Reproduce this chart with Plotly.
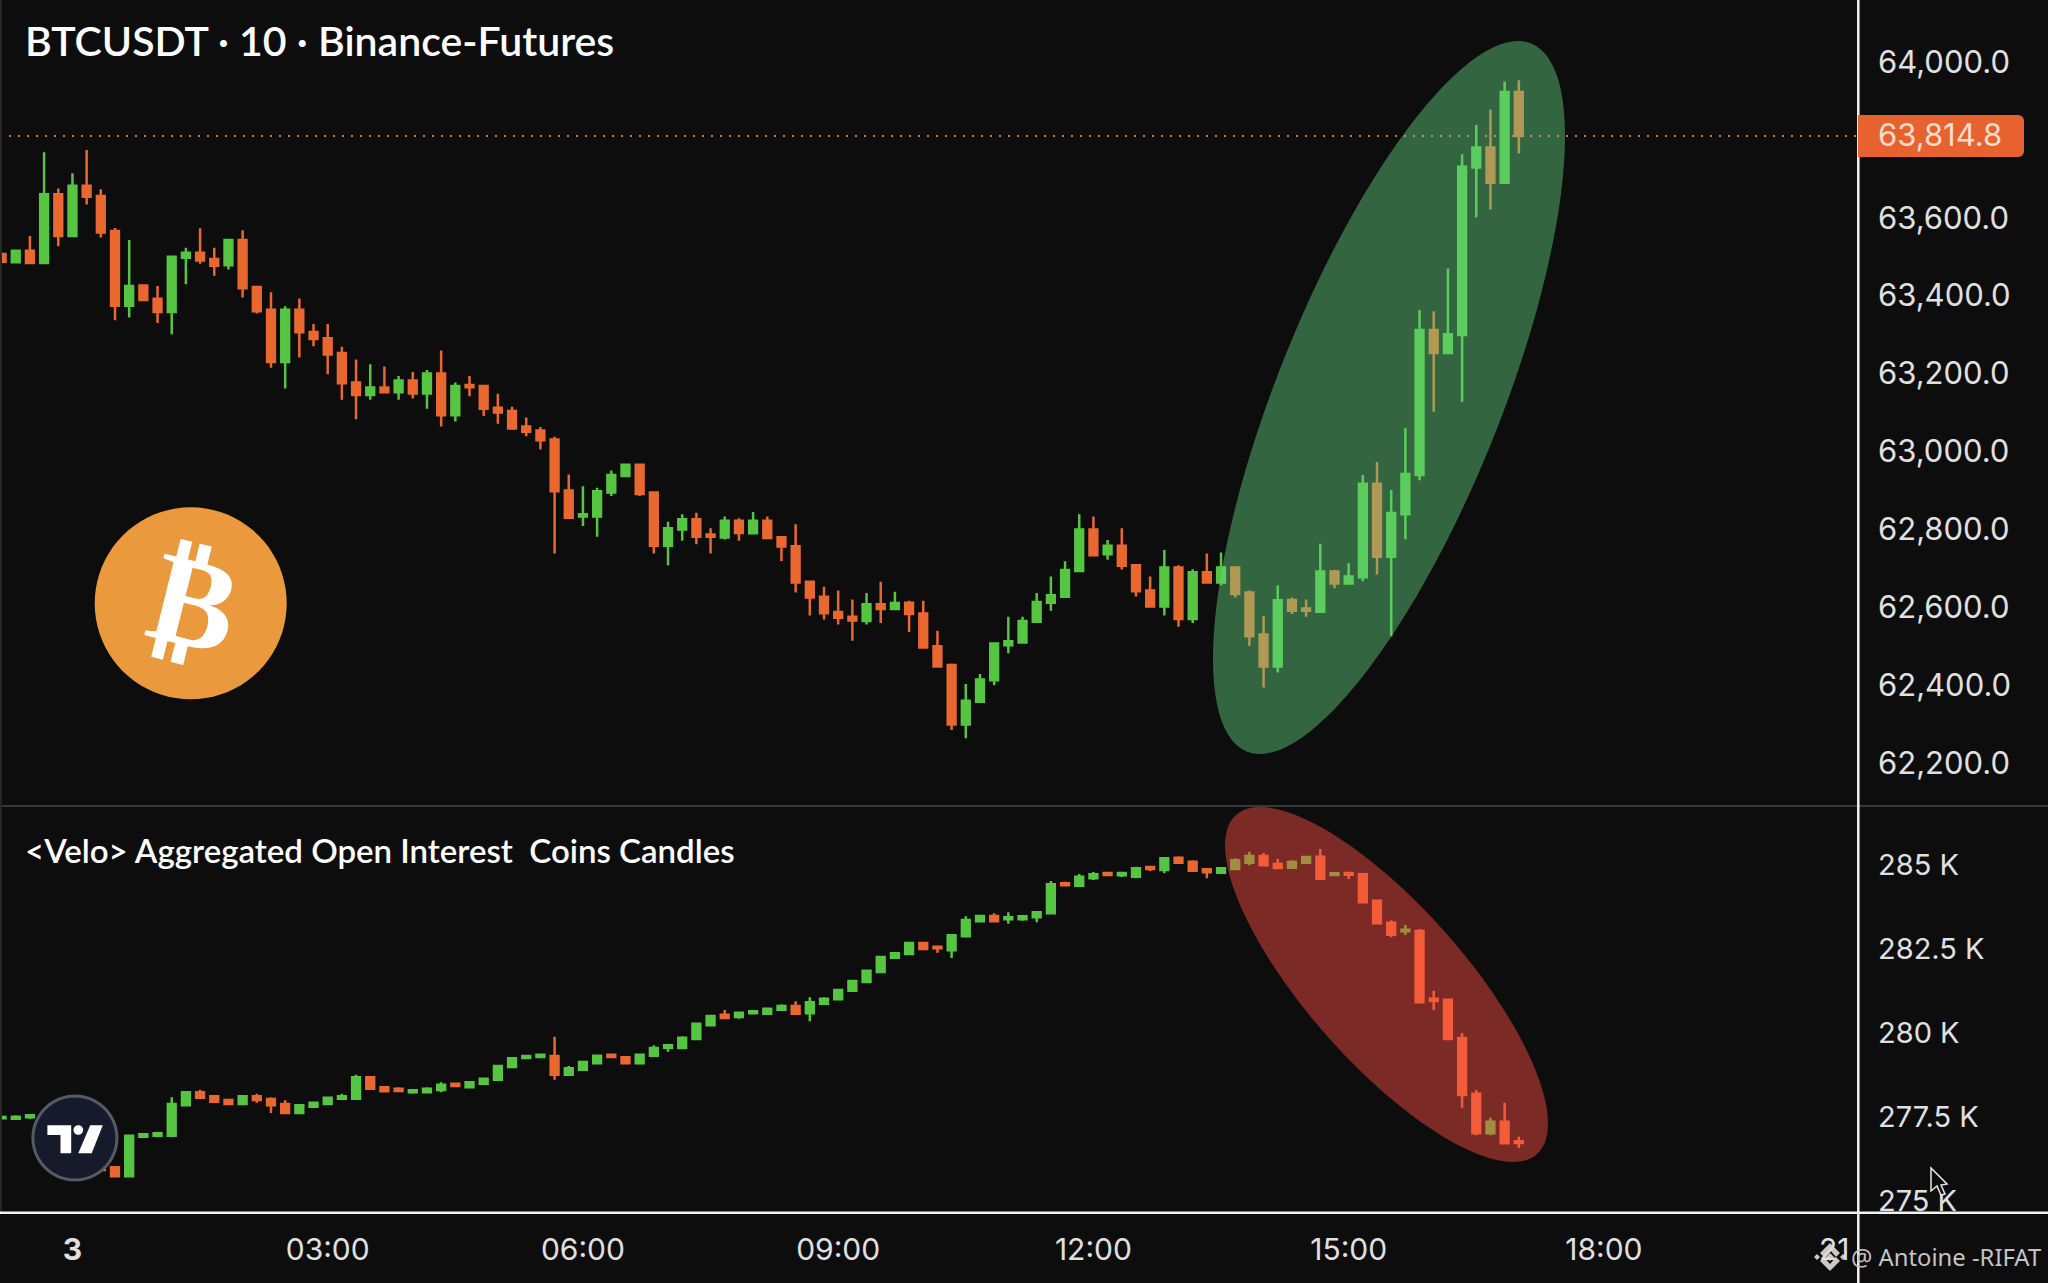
import math
import pandas as pd
import plotly.graph_objects as go

# ---------- data ----------
candle_times = pd.date_range("2024-05-02 23:10", periods=108, freq="10min")

price_open = [63512,63491,63520,63489,63665,63558,63687,63661,63571,63379,63431,63397,63363,63502,63515,63499,63483,63548,63427,63369,63235,63369,63312,63296,63258,63182,63150,63169,63157,63187,63154,63205,63098,63176,63173,63117,63109,63069,63059,63036,62905,62838,62838,62900,62942,62971,62900,62763,62805,62831,62792,62784,62827,62795,62827,62785,62762,62671,62632,62593,62581,62570,62613,62601,62617,62589,62505,62457,62304,62363,62418,62508,62515,62568,62617,62632,62698,62805,62741,62763,62713,62648,62607,62707,62575,62695,62669,62707,62643,62535,62453,62624,62602,62594,62697,62666,62682,62922,62735,62844,62945,63317,63258,63304,63734,63785,63695,63928]
price_high = [63512,63520,63558,63773,63680,63719,63779,63678,63579,63548,63433,63430,63505,63528,63578,63528,63548,63573,63429,63414,63378,63398,63332,63332,63274,63241,63229,63223,63199,63209,63214,63264,63182,63199,63173,63153,63120,63092,63068,63043,62946,62916,62912,62956,62974,62974,62903,62825,62844,62848,62808,62838,62834,62850,62838,62785,62818,62671,62658,62648,62625,62642,62671,62645,62622,62622,62545,62461,62408,62434,62515,62581,62581,62642,62684,62723,62844,62838,62778,62808,62713,62684,62752,62713,62703,62743,62746,62707,62648,62583,62661,62630,62625,62768,62701,62718,62945,62978,62906,63065,63368,63365,63475,63768,63843,63883,63955,63958]
price_low = [63492,63488,63489,63488,63532,63558,63639,63554,63342,63349,63394,63335,63306,63434,63487,63456,63472,63400,63359,63220,63167,63246,63275,63203,63138,63088,63138,63157,63138,63141,63115,63069,63082,63147,63096,63076,63062,63044,63010,62743,62835,62814,62786,62891,62942,62891,62743,62713,62776,62767,62743,62779,62776,62792,62783,62724,62643,62584,62574,62561,62519,62561,62565,62601,62542,62502,62453,62290,62269,62363,62405,62487,62515,62568,62596,62632,62698,62736,62727,62702,62633,62607,62584,62555,62565,62669,62662,62630,62506,62399,62438,62588,62581,62594,62654,62666,62672,62689,62531,62780,62931,63107,63258,63133,63606,63626,63695,63770]
price_close = [63492,63520,63489,63665,63558,63687,63659,63567,63379,63430,63394,63363,63505,63515,63495,63482,63548,63424,63365,63235,63369,63311,63294,63254,63180,63150,63169,63157,63187,63154,63205,63098,63173,63170,63115,63105,63064,63056,63034,62903,62835,62844,62903,62945,62971,62896,62763,62808,62831,62786,62786,62827,62796,62827,62783,62761,62669,62630,62590,62578,62571,62613,62601,62616,62588,62502,62453,62304,62365,62420,62512,62518,62570,62619,62636,62701,62805,62739,62763,62712,62646,62607,62707,62575,62695,62669,62707,62639,62531,62453,62623,62596,62596,62697,62666,62684,62922,62735,62847,62947,63317,63258,63306,63736,63785,63695,63928,63814.8]

oi_open = [277513,277503,277543,277543,277543,277265,276967,276470,276053,275785,276967,276997,276997,277900,278288,278168,278059,277940,278168,278089,277940,277672,277861,277940,278099,278099,278734,278437,278397,278288,278288,278357,278546,278437,278546,278665,279042,279310,279340,279370,278814,278963,279151,279410,279330,279151,279380,279618,279608,279876,280283,280601,280532,280641,280631,280750,280859,280641,280929,281058,281316,281574,281872,282299,282408,282736,282627,282518,282935,283382,283541,283441,283441,283501,283620,284514,284444,284662,284821,284751,284712,285000,284910,285278,285159,284930,284831,284940,285129,285327,285089,284980,285129,285307,284761,284821,284781,283997,283341,283083,283093,281077,281047,279906,278247,277066,277413,276827]
oi_high = [277553,277602,277602,277612,277543,277265,276967,276470,276093,277026,277036,277116,278139,278327,278367,278208,278099,278208,278248,278139,278049,277940,277980,278129,278248,278814,278734,278476,278437,278347,278437,278586,278546,278586,278695,279112,279340,279410,279410,279946,279072,279231,279380,279410,279330,279410,279688,279727,279956,280333,280601,280740,280661,280740,280780,280909,280999,281118,281118,281376,281644,281912,282319,282428,282776,282776,282627,283004,283531,283580,283620,283650,283531,283650,284583,284563,284791,284851,284821,284861,285010,285000,285258,285317,285198,284950,284960,285258,285456,285417,285238,285198,285297,285536,284811,284821,284821,283997,283411,283272,283153,281316,281067,280055,278356,277532,277979,276966]
oi_low = [277513,277503,277493,277543,277265,276967,276470,275974,275785,275785,276967,276997,276997,277900,278129,278010,277940,277940,277980,277672,277672,277672,277861,277900,278059,278099,278397,278317,278288,278248,278288,278288,278437,278437,278506,278665,279042,279271,279340,278665,278814,278963,279151,279300,279151,279151,279380,279499,279608,279876,280283,280502,280482,280641,280631,280750,280631,280403,280929,281058,281316,281574,281872,282299,282408,282557,282448,282289,282935,283352,283382,283312,283402,283352,283620,284454,284444,284612,284761,284702,284662,284880,284811,285129,284890,284662,284831,284940,285049,285020,284970,284980,285099,284612,284761,284642,283947,283322,282904,282974,280968,280740,279876,277830,277006,277006,276738,276628]
oi_close = [277553,277563,277602,277612,277265,276967,276470,275974,275785,276997,277036,277066,277940,278288,278129,278010,277940,278168,278059,277900,277672,277900,277980,278129,278168,278734,278397,278317,278327,278347,278397,278516,278476,278586,278695,279072,279300,279370,279410,278814,279003,279191,279380,279340,279151,279410,279608,279688,279916,280333,280562,280502,280661,280701,280780,280859,280631,280969,281078,281336,281604,281912,282319,282428,282736,282557,282577,282965,283421,283541,283382,283501,283531,283650,284484,284454,284712,284781,284761,284821,284960,284940,285258,285129,284890,284841,284960,285198,285327,285049,284970,285149,285297,284652,284811,284771,283947,283322,282984,283133,280968,281008,279876,278208,277066,277413,276768,276777]

price_ticks = [64000,63600,63400,63200,63000,62800,62600,62400,62200]
oi_ticks = [285000,282500,280000,277500,275000]
oi_tick_labels = ["285 K","282.5 K","280 K","277.5 K","275 K"]
time_ticks = ["2024-05-03 00:00","2024-05-03 03:00","2024-05-03 06:00","2024-05-03 09:00","2024-05-03 12:00","2024-05-03 15:00","2024-05-03 18:00"]
time_labels = ["<b>3</b>","03:00","06:00","09:00","12:00","15:00","18:00"]
last_price = 63814.8
title_main = "BTCUSDT · 10 · Binance-Futures"
title_sub = "&lt;Velo&gt; Aggregated Open Interest  Coins Candles"

# ---------- styling ----------
W, H = 2048, 1283
PW, PH = 1858, 1213       # plot area in pixels
BG = "#0d0d0d"
GREEN = "#55c542"
ORANGE = "#e96830"
FONT = "Inter"

def px(x): return x / PW
def py(y): return 1 - y / PH

def path(points):
    return "M " + " L ".join(f"{px(x):.5f},{py(y):.5f}" for x, y in points) + " Z"

def ellipse(cx, cy, ax, ay, rho, n=120):
    pts = []
    for i in range(n):
        t = 2 * math.pi * i / n
        pts.append((cx + ax * math.cos(t),
                    cy - ay * (rho * math.cos(t) + math.sqrt(1 - rho ** 2) * math.sin(t))))
    return path(pts)

def circle(cx, cy, rx, ry=None, n=80):
    ry = ry or rx
    return path([(cx + rx * math.cos(2 * math.pi * i / n), cy + ry * math.sin(2 * math.pi * i / n)) for i in range(n)])

def badge(x0, y0, x1, y1, r=6):
    pts = [(x0, y0)]
    pts += [(x1 - r + r * math.sin(a * math.pi / 12), y0 + r - r * math.cos(a * math.pi / 12)) for a in range(7)]
    pts += [(x1 - r + r * math.cos(a * math.pi / 12), y1 - r + r * math.sin(a * math.pi / 12)) for a in range(7)]
    pts += [(x0, y1)]
    return path(pts)

def shp(d, fill, line=None, lw=0):
    return dict(type="path", path=d, xref="paper", yref="paper", fillcolor=fill,
                line=dict(color=line or fill, width=lw), layer="above")

def seg(x0, y0, x1, y1, color, w):
    return dict(type="line", xref="paper", yref="paper", x0=px(x0), x1=px(x1), y0=py(y0), y1=py(y1),
                line=dict(color=color, width=w), layer="above")

def candle(o, h, l, c, yaxis):
    return go.Candlestick(x=candle_times, open=o, high=h, low=l, close=c, yaxis=yaxis, xaxis="x",
                          increasing=dict(line=dict(color=GREEN, width=2.5), fillcolor=GREEN),
                          decreasing=dict(line=dict(color=ORANGE, width=2.5), fillcolor=ORANGE),
                          whiskerwidth=0, showlegend=False, hoverinfo="skip")

fig = go.Figure([candle(price_open, price_high, price_low, price_close, "y"),
                 candle(oi_open, oi_high, oi_low, oi_close, "y2")])

shapes = [
    dict(type="line", xref="paper", yref="y", x0=0, x1=1, y0=last_price, y1=last_price,
         line=dict(color=ORANGE, width=2, dash="2px,7px"), layer="below"),
    shp(ellipse(1389, 397.5, 176, 356.5, 0.733), "rgba(101,217,129,0.44)"),
    shp(ellipse(1386.5, 984.5, 161.5, 177.5, -0.783), "rgba(255,76,67,0.46)"),
    seg(0, 806, 2048, 806, "#45474b", 1.5),
    seg(1, 0, 1, 1213, "#262626", 2),
    seg(0, 1212.7, 2048, 1212.7, "#f2f2f2", 2.5),
    seg(1858.3, 0, 1858.3, 1283, "#f2f2f2", 2.5),
    # last-price badge
    shp(badge(1858, 115, 2024, 157), "#e8622f"),
    # Bitcoin disc
    shp(circle(190.7, 603.3, 96), "#ea9a3d"),
    # TradingView badge
    shp(circle(74.9, 1138, 42), "#161a2b", "#565a66", 3),
    shp(path([(47.4, 1125.3), (71.2, 1125.3), (71.2, 1153.3), (60.5, 1153.3), (60.5, 1135), (47.4, 1135)]), "#ffffff"),
    shp(circle(78.3, 1130, 4.8), "#ffffff"),
    shp(path([(90.2, 1125.3), (102.8, 1125.3), (91.7, 1153.3), (78.3, 1153.3)]), "#ffffff"),
    # Binance mark of the watermark
    shp(path([(1830, 1243), (1840, 1253), (1836, 1257), (1830, 1250), (1824, 1257), (1820, 1253)]), "#c9c9c9"),
    shp(path([(1830, 1271), (1840, 1261), (1836, 1257), (1830, 1264), (1824, 1257), (1820, 1261)]), "#c9c9c9"),
    shp(path([(1830, 1253), (1834, 1257), (1830, 1261), (1826, 1257)]), "#c9c9c9"),
    shp(path([(1817, 1254), (1820, 1257), (1817, 1260), (1814, 1257)]), "#c9c9c9"),
    shp(path([(1843, 1254), (1846, 1257), (1843, 1260), (1840, 1257)]), "#c9c9c9"),
    # mouse cursor
    shp(path([(1931, 1168), (1947, 1184), (1941, 1185), (1945, 1194), (1941, 1195), (1937, 1186), (1931, 1191)]), "#0d0d0d", "#e8e8e8", 1.5),
]

def note(text, x, y, size, color="#ffffff", anchor="left", weight="normal", family="Lato", **kw):
    return dict(text=text, xref="paper", yref="paper", x=px(x), y=py(y), xanchor=anchor, yanchor="middle",
                showarrow=False, font=dict(family=family, size=size, color=color, weight=weight), **kw)

annotations = [
    note(title_main, 23, 40, 41, weight=600),
    note(title_sub, 23, 850, 33, weight=600),
    note(f"{last_price:,.1f}", 1876, 134, 31, "#fbdccf", family=FONT),
    note("<b>₿</b>", 194, 601, 128, "#ffffff", anchor="center", textangle=14, family="DejaVu Sans"),
    note("21", 1834, 1249, 30, "#e0e0e0", anchor="center", family=FONT),
    note("@ Antoine -RIFAT", 1849, 1257, 23.8, "#c4c4c4", family="Noto Sans"),
]

fig.update_layout(
    width=W, height=H, paper_bgcolor=BG, plot_bgcolor=BG,
    margin=dict(l=0, r=W - PW, t=0, b=H - PH, pad=0),
    boxgap=0.45, boxgroupgap=0, showlegend=False, shapes=shapes, annotations=annotations,
    xaxis=dict(anchor="y2", type="date", rangeslider=dict(visible=False),
               range=["2024-05-02 23:08:54", "2024-05-03 20:59:12"],
               tickmode="array", tickvals=time_ticks, ticktext=time_labels,
               showgrid=False, zeroline=False, showline=False, ticks="", ticklabelstandoff=16,
               tickfont=dict(family=FONT, size=30, color="#e0e0e0")),
    yaxis=dict(domain=[1 - 806 / PH, 1], side="right", anchor="x",
               range=[62095.1, 64163.9], tickmode="array", tickvals=price_ticks, tickformat=",.1f",
               showgrid=False, zeroline=False, showline=False, ticks="", ticklabelstandoff=19,
               ticklabelshift=-2,
               tickfont=dict(family=FONT, size=31, color="#e0e0e0")),
    yaxis2=dict(domain=[0, 1 - 806 / PH], side="right", anchor="x",
                range=[274693, 286817], tickmode="array", tickvals=oi_ticks, ticktext=oi_tick_labels,
                showgrid=False, zeroline=False, showline=False, ticks="", ticklabelstandoff=19,
                ticklabelshift=-2,
                tickfont=dict(family=FONT, size=29, color="#e0e0e0")),
)

fig.write_html("out.html", config=dict(displayModeBar=False),
               post_script="document.body.style.margin='0';document.body.style.background='#0d0d0d';")
